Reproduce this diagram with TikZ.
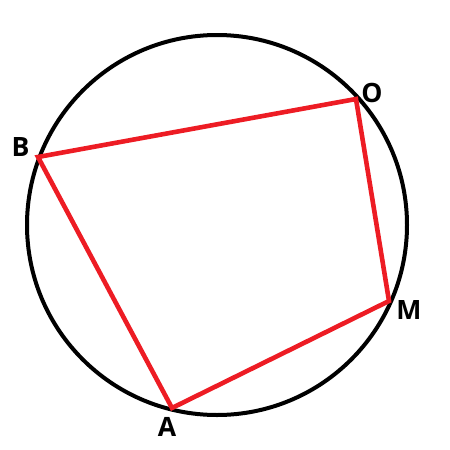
\documentclass[tikz,border=0pt]{standalone}
\usepackage{fontspec}
\setmainfont{Open Sans}
\usetikzlibrary{positioning}
\definecolor{paintred}{RGB}{237,28,36}
\tikzset{
  vong/.style={line width=2pt, black},
  canh/.style={line width=2.3pt, paintred, line join=miter},
  nhan/.style={font=\fontsize{13.3}{16}\selectfont\bfseries, inner sep=0pt}
}

\begin{document}
\begin{tikzpicture}[x=0.5pt, y=-0.5pt]
\useasboundingbox (0,0) rectangle (450,450);
%\draw[color=blue] (0,0) grid (450,450); %Tạo lưới

%Đường tròn
\coordinate (T) at (217,225);
\draw[vong] (T) circle [radius=95pt];

%Các đỉnh
\coordinate (B) at (38,157);
\coordinate (O) at (356,99);
\coordinate (M) at (389,301);
\coordinate (A) at (172,408);

%Tứ giác
\draw[canh] (B) -- (O) -- (M) -- (A) -- cycle;

%Nhãn các đỉnh
\node[nhan] (nB) at (20.5,147) {B};
\node[nhan] (nO) at (372,93) {O};
\node[nhan] (nM) at (409,310) {M};
\node[nhan] (nA) at (167,427) {A};
\end{tikzpicture}
\end{document}
